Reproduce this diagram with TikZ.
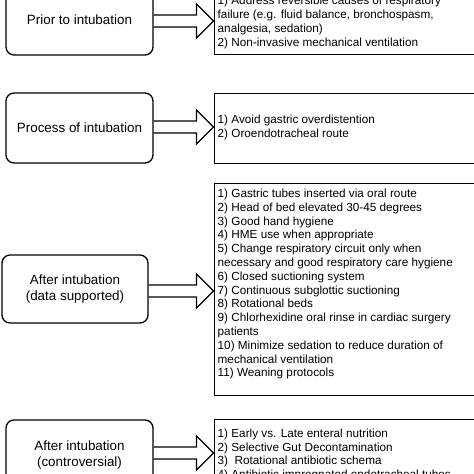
\documentclass[tikz,border=0pt]{standalone}
\usepackage{fontspec}
\setmainfont{Liberation Sans}
\usetikzlibrary{calc}
\newcommand\stagearrow[2]{%
  \draw[bigarrow] ($(#1)+(0,-6)$) -- ($(#2)+(-17,-6)$) -- ($(#2)+(-17,-17)$) -- (#2)
    -- ($(#2)+(-17,17)$) -- ($(#2)+(-17,6)$) -- ($(#1)+(0,6)$);}
\begin{document}
\begin{tikzpicture}[x=1pt,y=-1pt,
  stage/.style={draw, line width=1.3pt, rounded corners=8pt, align=center, inner sep=0pt,
    font=\fontsize{13.4}{16}\selectfont},
  listbox/.style={draw, line width=1.3pt, inner sep=0pt},
  listtext/.style={font=\fontsize{11.75}{13.8}\selectfont, align=left, anchor=north west, inner sep=0pt},
  bigarrow/.style={line width=1.3pt, line join=miter}]
\useasboundingbox (0,0) rectangle (474,474);
\begin{scope}
\clip (0,0) rectangle (474,474);
% stage boxes
\node[stage, minimum width=147pt, minimum height=70pt] (s1) at (79.5,20) {Prior to intubation};
\node[stage, minimum width=147pt, minimum height=70pt] (s2) at (79.5,128) {Process of intubation};
\node[stage, minimum width=146pt, minimum height=68pt] (s3) at (75,289) {After intubation\\(data supported)};
\node[stage, minimum width=147pt, minimum height=70pt] (s4) at (79.5,455) {After intubation\\(controversial)};
% list boxes
\node[listbox, minimum width=280pt, minimum height=80pt, anchor=south west] (r1) at (213.5,55) {};
\node[listbox, minimum width=280pt, minimum height=70pt, anchor=north west] (r2) at (213.5,93) {};
\node[listbox, minimum width=280pt, minimum height=212pt, anchor=north west] (r3) at (213.5,183) {};
\node[listbox, minimum width=280pt, minimum height=80pt, anchor=north west] (r4) at (213.5,419) {};
% list texts (top = first baseline - strut height)
\node[listtext] (t1) at (217.5,-5.06) {\strut 1) Address reversible causes of respiratory\\failure (e.g. fluid balance, bronchospasm,\\analgesia, sedation)\\2) Non-invasive mechanical ventilation};
\node[listtext] (t2) at (217.5,113.84) {\strut 1) Avoid gastric overdistention\\2) Oroendotracheal route};
\node[listtext] (t3) at (217.5,187.64) {\strut 1) Gastric tubes inserted via oral route\\2) Head of bed elevated 30-45 degrees\\3) Good hand hygiene\\4) HME use when appropriate\\5) Change respiratory circuit only when\\necessary and good respiratory care hygiene\\6) Closed suctioning system\\7) Continuous subglottic suctioning\\8) Rotational beds\\9) Chlorhexidine oral rinse in cardiac surgery\\patients\\10) Minimize sedation to reduce duration of\\mechanical ventilation\\11) Weaning protocols};
\node[listtext] (t4) at (217.5,427.34) {\strut 1) Early vs. Late enteral nutrition\\2) Selective Gut Decontamination\\3)\ \ Rotational antibiotic schema\\4) Antibiotic impregnated endotracheal tubes};
% arrows
\coordinate (b1) at (s1.east |- 0,21);   \coordinate (p1) at (r1.west |- 0,21);
\coordinate (b2) at (s2.east |- 0,127);  \coordinate (p2) at (r2.west |- 0,127);
\coordinate (b3) at (s3.east |- 0,291);  \coordinate (p3) at (r3.west |- 0,291);
\coordinate (b4) at (s4.east |- 0,453);  \coordinate (p4) at (r4.west |- 0,453);
\stagearrow{b1}{p1}
\stagearrow{b2}{p2}
\stagearrow{b3}{p3}
\stagearrow{b4}{p4}
\end{scope}
\end{tikzpicture}
\end{document}
